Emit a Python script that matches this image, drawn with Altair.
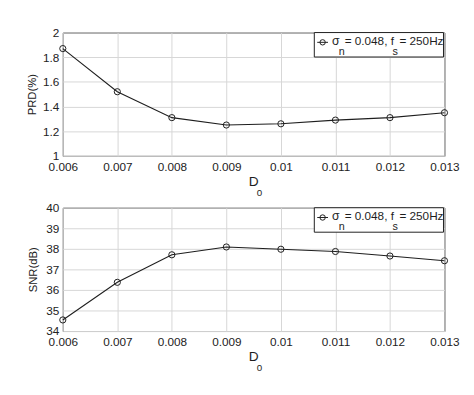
import altair as alt
import pandas as pd

d0 = [0.006, 0.007, 0.008, 0.009, 0.010, 0.011, 0.012, 0.013]
prd = [1.87, 1.52, 1.31, 1.25, 1.26, 1.29, 1.31, 1.35]
snr = [34.54, 36.37, 37.71, 38.09, 37.98, 37.87, 37.65, 37.42]
x_ticks = [0.006, 0.007, 0.008, 0.009, 0.01, 0.011, 0.012, 0.013]
prd_ticks = [1, 1.2, 1.4, 1.6, 1.8, 2]
snr_ticks = [34, 35, 36, 37, 38, 39, 40]
legend_main = ["σ", "= 0.048, f", "= 250Hz"]
legend_sub = ["n", "s"]

W, H = 390, 126
FONT = "Liberation Sans"
INK = "#1e1e1e"


def panel(values, ytitle, ydomain, yticks, tpad):
    df = pd.DataFrame({"D0": d0, "v": values})
    x = alt.X("D0:Q",
              scale=alt.Scale(domain=[0.006, 0.013], nice=False, zero=False),
              axis=alt.Axis(values=x_ticks, format="~g", title=None,
                            labelFlush=False, labelOverlap=False))
    y = alt.Y("v:Q",
              scale=alt.Scale(domain=ydomain, nice=False, zero=False),
              axis=alt.Axis(values=yticks, format="~g", title=ytitle,
                            titlePadding=tpad, labelFlush=False,
                            labelOverlap=False))
    base = alt.Chart(df).encode(x=x, y=y)
    line = base.mark_line(color=INK, strokeWidth=1.1)
    pts = base.mark_point(shape="circle", filled=False, color=INK,
                          size=40, strokeWidth=1, opacity=1)

    one = pd.DataFrame({"k": [0]})
    c1 = alt.Chart(one)
    box = c1.mark_rect(fill="white", stroke=INK, strokeWidth=1).encode(
        x=alt.value(257), x2=alt.value(389), y=alt.value(0), y2=alt.value(25))
    seg = c1.mark_rule(color=INK, strokeWidth=1).encode(
        x=alt.value(260), x2=alt.value(271), y=alt.value(10))
    sym = c1.mark_point(shape="circle", filled=False, color=INK, size=30,
                        strokeWidth=1, opacity=1).encode(
        x=alt.value(265.5), y=alt.value(10))
    tstyle = dict(align="left", baseline="middle", font=FONT, color=INK)
    t1 = c1.mark_text(fontSize=12.5, **tstyle).encode(
        x=alt.value(275), y=alt.value(8.5), text=alt.value(legend_main[0]))
    t2 = c1.mark_text(fontSize=11, **tstyle).encode(
        x=alt.value(282), y=alt.value(19.5), text=alt.value(legend_sub[0]))
    t3 = c1.mark_text(fontSize=12, **tstyle).encode(
        x=alt.value(288), y=alt.value(8.5), text=alt.value(legend_main[1]))
    t4 = c1.mark_text(fontSize=11, **tstyle).encode(
        x=alt.value(337), y=alt.value(19.5), text=alt.value(legend_sub[1]))
    t5 = c1.mark_text(fontSize=12, **tstyle).encode(
        x=alt.value(344), y=alt.value(8.5), text=alt.value(legend_main[2]))

    cstyle = dict(align="center", baseline="middle", font=FONT, color=INK)
    xt1 = c1.mark_text(fontSize=14, **cstyle).encode(
        x=alt.value(195), y=alt.value(H + 27), text=alt.value("D"))
    xt2 = c1.mark_text(fontSize=10, **cstyle).encode(
        x=alt.value(201), y=alt.value(H + 38), text=alt.value("0"))

    return alt.layer(line, pts, box, seg, sym, t1, t2, t3, t4, t5, xt1, xt2
                     ).properties(width=W, height=H)


top = panel(prd, "PRD(%)", [1, 2], prd_ticks, 5)
bottom = panel(snr, "SNR(dB)", [34, 40], snr_ticks, 8)

chart = alt.vconcat(top, bottom, spacing=53, bounds="flush").properties(
    padding={"left": 18, "top": 14, "right": 6, "bottom": 4},
    background="white",
).configure_view(
    stroke=INK, strokeWidth=1
).configure_axis(
    labelFont=FONT, titleFont=FONT, labelFontSize=12, titleFontSize=11.5,
    titleFontWeight="normal", labelColor="#222", titleColor="#222",
    gridColor="#d6d6d6", gridWidth=1, domain=False, ticks=False,
).configure_axisX(labelPadding=6).configure_axisY(labelPadding=4)

chart.save("out.html", embed_options={"renderer": "svg", "actions": False})
